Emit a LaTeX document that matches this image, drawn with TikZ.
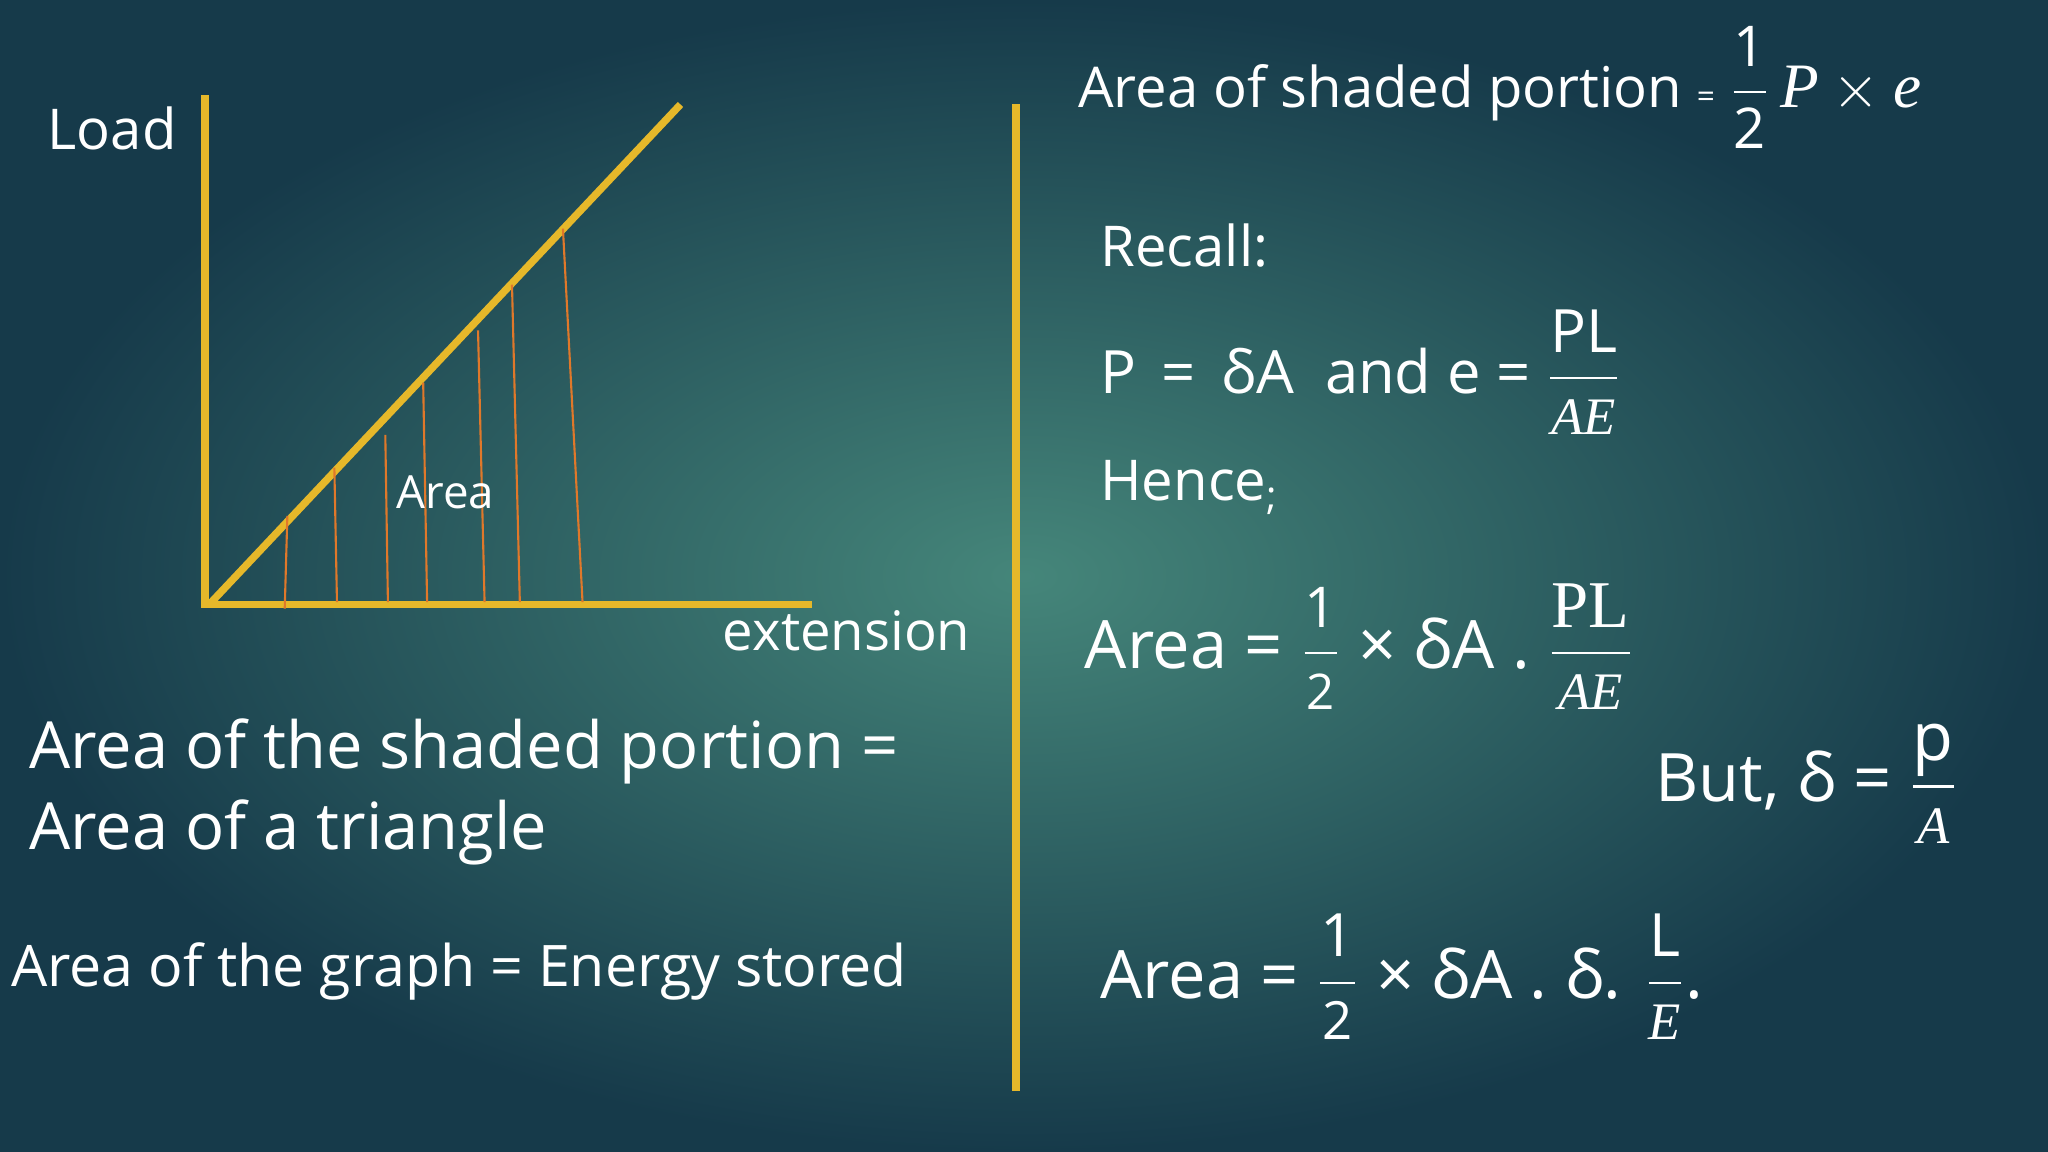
\documentclass[tikz,border=0pt]{standalone}
\usepackage{amsmath}
\usepackage{fontspec}
\setmainfont{Open Sans}
\newfontfamily\serifit{Liberation Serif}
\newcommand{\mi}[2]{\text{\fontsize{#1}{#1}\serifit\itshape #2}}
\newcommand{\tx}[2]{\text{\fontsize{#1}{#1}\selectfont #2}}
\begin{document}
\begin{tikzpicture}[x=0.013061cm,y=-0.013061cm,
  ax/.style={draw=yellowc,line width=2.1pt},
  hatch/.style={draw=orangec,line width=0.6pt},
  lbl/.style={text=white,inner sep=0pt,anchor=west},
  ]
\definecolor{yellowc}{HTML}{E6B82A}
\definecolor{orangec}{HTML}{E0782A}
\definecolor{bgin}{HTML}{45867A}
\definecolor{bgout}{HTML}{163A4A}
\shade[inner color=bgin,outer color=bgout] (0,0) rectangle (1568,882);
\useasboundingbox (0,0) rectangle (1568,882);
% axes
\coordinate (o) at (157,463);
\coordinate (yt) at (157,73);
\coordinate (xe) at (622,463);
\coordinate (dt) at (521,80);
\draw[ax] (yt) -- (o) -- (xe);
\draw[ax] (160,463) -- (dt);
\foreach \a/\b/\c/\d in {220/395/218/466,256/358/258/461,295/333/297/461,324/293/327/461,366/253/371/461,392/218/398/461,431/175/446/461}
  \draw[hatch] (\a,\b) -- (\c,\d);
\node[lbl,font=\fontsize{16}{18}\selectfont] (load) at (36,98) {Load};
\node[lbl,font=\fontsize{13}{15}\selectfont] (area) at (303,377) {Area};
\node[lbl,font=\fontsize{15.5}{18}\selectfont] (ext) at (553,483) {extension};
\node[lbl,font=\fontsize{18.5}{22}\selectfont] (l1) at (22,575) {Area of the shaded portion =};
\node[lbl,font=\fontsize{18.5}{22}\selectfont] (l2) at (22,637) {Area of a triangle};
\node[lbl,font=\fontsize{16.3}{18}\selectfont] (l3) at (8,744) {Area of the graph = Energy stored};
% divider
\coordinate (v1) at (778,80);
\coordinate (v2) at (778,835);
\draw[ax] (v1) -- (v2);
% right
\node[lbl,font=\fontsize{16}{18}\selectfont] (r1) at (825,67) {Area of shaded portion {\small =} $\dfrac{\tx{16}{1}}{\tx{16}{2}}\,\mi{18}{P} \times \mi{18}{e}$};
\node[lbl,font=\fontsize{16}{18}\selectfont] (r2) at (842,188) {Recall:};
\node[lbl,font=\fontsize{17}{18}\selectfont] (r3) at (842,285) {P \,=\, δA\ \ and e = $\dfrac{\tx{17}{PL}}{\mi{15}{AE}}$};
\node[lbl,font=\fontsize{16}{18}\selectfont] (r4) at (842,373) {Hence\textsubscript{;}};
\node[lbl,font=\fontsize{19}{22}\selectfont] (r5) at (830,495) {Area = $\dfrac{\tx{16}{1}}{\tx{14}{2}}$ × δA . $\dfrac{\text{\fontsize{19}{19}\serifit PL}}{\mi{15}{AE}}$};
\node[lbl,font=\fontsize{19}{22}\selectfont] (r6) at (1267,600) {But, δ = $\dfrac{\tx{19}{p}}{\mi{15}{A}}$};
\node[lbl,font=\fontsize{19}{22}\selectfont] (r7) at (842,748) {Area = $\dfrac{\tx{17}{1}}{\tx{15}{2}}$ × δA . δ. $\dfrac{\tx{17}{L}}{\mi{15}{E}}$.};
\end{tikzpicture}
\end{document}
